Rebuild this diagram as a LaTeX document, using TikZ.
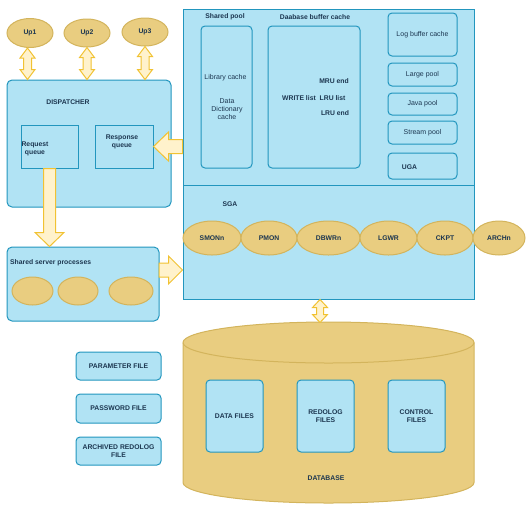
\documentclass[tikz,border=0pt]{standalone}
\usepackage{fontspec}
\setmainfont{Liberation Sans}
\usetikzlibrary{shapes.geometric,calc}
\definecolor{bfill}{HTML}{B1E3F4}
\definecolor{bline}{HTML}{2296BE}
\definecolor{efill}{HTML}{E9CD80}
\definecolor{eline}{HTML}{D3B45C}
\definecolor{afill}{HTML}{FFF2CC}
\definecolor{aline}{HTML}{F1C232}
\definecolor{txt}{HTML}{1C3650}
% vertical double block arrow: top, bottom, head half, shaft half, head length
\newcommand\dblarrowv[5]{%
 \draw[blk] (#1) -- ($(#1)+(#3,#5)$) -- ($(#1)+(#4,#5)$) -- ($(#2)+(#4,-#5)$) -- ($(#2)+(#3,-#5)$) -- (#2) -- ($(#2)+(-#3,-#5)$) -- ($(#2)+(-#4,-#5)$) -- ($(#1)+(-#4,#5)$) -- ($(#1)+(-#3,#5)$) -- cycle;}
\newcommand\arrowdown[5]{%
 \draw[blk] ($(#1)+(-#4,0)$) -- ($(#1)+(#4,0)$) -- ($(#2)+(#4,-#5)$) -- ($(#2)+(#3,-#5)$) -- (#2) -- ($(#2)+(-#3,-#5)$) -- ($(#2)+(-#4,-#5)$) -- cycle;}
\newcommand\arrowright[5]{%
 \draw[blk] ($(#1)+(0,-#4)$) -- ($(#2)+(-#5,-#4)$) -- ($(#2)+(-#5,-#3)$) -- (#2) -- ($(#2)+(-#5,#3)$) -- ($(#2)+(-#5,#4)$) -- ($(#1)+(0,#4)$) -- cycle;}
\newcommand\arrowleft[5]{%
 \draw[blk] ($(#1)+(0,-#4)$) -- ($(#2)+(#5,-#4)$) -- ($(#2)+(#5,-#3)$) -- (#2) -- ($(#2)+(#5,#3)$) -- ($(#2)+(#5,#4)$) -- ($(#1)+(0,#4)$) -- cycle;}
\begin{document}
\begin{tikzpicture}[x=1pt,y=-1pt,
 font=\fontsize{7}{8.2}\selectfont, text=txt,
 box/.style={draw=bline,fill=bfill,line width=1pt,rounded corners=4pt,inner sep=0pt},
 proc/.style={ellipse,draw=eline,fill=efill,line width=1pt,inner sep=0pt,font=\fontsize{6.8}{8}\selectfont\bfseries},
 lbl/.style={inner sep=0pt,align=center,font=\fontsize{6.8}{8}\selectfont\bfseries},
 reg/.style={inner sep=0pt,align=center},
 blk/.style={draw=aline,fill=afill,line width=1pt,line join=miter}]
\useasboundingbox (0,0) rectangle (529,520);

% ---------- users
\node[proc,minimum width=46pt,minimum height=29pt] (up1) at (30,33) {Up1};
\node[proc,minimum width=46pt,minimum height=28pt] (up2) at (87,33) {Up2};
\node[proc,minimum width=46pt,minimum height=28pt] (up3) at (145,32) {Up3};

% ---------- dispatcher
\node[box,rounded corners=5pt,minimum width=164pt,minimum height=127pt] (disp) at (89,143.5) {};
\node[lbl] (displ) at (68,102) {DISPATCHER};
\node[box,rounded corners=0pt,minimum width=57pt,minimum height=43pt] (rq) at (49.5,146.5) {};
\node[lbl] (rqt) at (35,148.5) {Request\\queue};
\node[box,rounded corners=0pt,minimum width=58pt,minimum height=43pt] (resp) at (124,146.5) {};
\node[lbl] (respt) at (122,142) {Response\\queue};

\dblarrowv{$(up1.south)+(-2.5,0)$}{$(up1.south |- disp.north)+(-2.5,0)$}{7.5}{4}{10}
\dblarrowv{up2.south}{up2.south |- disp.north}{7.5}{4}{10}
\dblarrowv{up3.south}{up3.south |- disp.north}{7.5}{4}{10}

% ---------- shared server processes
\node[box,rounded corners=5pt,minimum width=152pt,minimum height=74pt] (ssp) at (83,284) {};
\node[lbl,anchor=west] (sspl) at (10,263) {Shared server processes};
\node[proc,minimum width=41pt,minimum height=28pt] (s1) at (32.5,291) {};
\node[proc,minimum width=40pt,minimum height=28pt] (s2) at (78,291) {};
\node[proc,minimum width=44pt,minimum height=28pt] (s3) at (131,291) {};

\arrowdown{rq.south}{rq.south |- ssp.north}{14.5}{6}{14}

% ---------- SGA
\node[draw=bline,fill=bfill,line width=1pt,inner sep=0pt,minimum width=291pt,minimum height=290pt] (sga) at (328.5,154) {};
\coordinate (divl) at (183,185);
\draw[bline,line width=1pt] (divl) -- (divl -| sga.east);

\node[lbl] (spl) at (225,17) {Shared pool};
\node[lbl] (dbcl) at (315,17) {Daabase buffer cache};
\node[box,minimum width=51pt,minimum height=142pt] (sp) at (226.5,97) {};
\node[reg] (lib) at (225.5,77.5) {Library cache};
\node[reg] (ddc) at (227,109) {Data\\Dictionary\\cache};
\node[box,minimum width=92pt,minimum height=142pt] (dbc) at (314,97) {};
\node[lbl] (mru) at (334,81) {MRU end};
\node[lbl,anchor=east] (wl) at (316,98) {WRITE list};
\node[lbl,anchor=west] (lrul) at (319.5,98) {LRU list};
\node[lbl] (lrue) at (335,113) {LRU end};

\node[box,minimum width=69pt,minimum height=43pt] (lbc) at (422.5,34.5) {};
\node[reg] (lbct) at (422.5,35) {Log buffer cache};
\node[box,minimum width=69pt,minimum height=23pt] (lp) at (422.5,74.5) {};
\node[reg] (lpt) at (422.5,74.5) {Large pool};
\node[box,minimum width=69pt,minimum height=22pt] (jp) at (422.5,104) {};
\node[reg] (jpt) at (422.5,104) {Java pool};
\node[box,minimum width=69pt,minimum height=23pt] (stp) at (422.5,132.5) {};
\node[reg] (stpt) at (422.5,132.5) {Stream pool};
\node[box,minimum width=69pt,minimum height=26pt] (uga) at (422.5,166) {};
\node[lbl] (ugat) at (409.5,167) {UGA};

\node[lbl] (sgal) at (230,204) {SGA};
\node[proc,minimum width=58pt,minimum height=34pt] (smon) at (212,238) {SMONn};
\node[proc,minimum width=56pt,minimum height=34pt] (pmon) at (269,238) {PMON};
\node[proc,minimum width=63pt,minimum height=34pt] (dbwr) at (328.5,238) {DBWRn};
\node[proc,minimum width=57pt,minimum height=34pt] (lgwr) at (388.5,238) {LGWR};
\node[proc,minimum width=56pt,minimum height=34pt] (ckpt) at (445,238) {CKPT};
\node[proc,minimum width=52pt,minimum height=34pt] (arch) at (499,238) {ARCHn};

\arrowleft{sga.west |- resp.east}{resp.east}{14.5}{7}{15}
\coordinate (ra) at (159,270);
\arrowright{ra}{ra -| sga.west}{14}{7}{14}

% ---------- database cylinder
\filldraw[fill=efill,draw=eline,line width=1pt] (183,342.5) -- (183,482.5)
  arc[start angle=180,end angle=360,x radius=145.5pt,y radius=20.5pt] -- (474,342.5)
  arc[start angle=0,end angle=180,x radius=145.5pt,y radius=20.5pt] -- cycle;
\draw[eline,line width=1pt] (183,342.5) arc[start angle=180,end angle=360,x radius=145.5pt,y radius=20.5pt];
\coordinate (dbt) at (320,322.5);
\dblarrowv{dbt |- sga.south}{dbt}{7.5}{3.5}{8}

\node[box,minimum width=57pt,minimum height=72pt] (df) at (234.5,416) {};
\node[lbl] (dft) at (234.5,416) {DATA FILES};
\node[box,minimum width=57pt,minimum height=72pt] (rf) at (325.5,416) {};
\node[lbl] (rft) at (325.5,416) {REDOLOG\\FILES};
\node[box,minimum width=57pt,minimum height=72pt] (cf) at (416.5,416) {};
\node[lbl] (cft) at (416.5,416) {CONTROL\\FILES};
\node[lbl] (dbl) at (326,478) {DATABASE};

% ---------- files
\node[box,minimum width=85pt,minimum height=28pt] (pf) at (118.5,366) {};
\node[lbl] (pft) at (118.5,366) {PARAMETER FILE};
\node[box,minimum width=85pt,minimum height=29pt] (pwf) at (118.5,408.5) {};
\node[lbl] (pwft) at (118.5,408.5) {PASSWORD FILE};
\node[box,minimum width=85pt,minimum height=28pt] (arf) at (118.5,451) {};
\node[lbl] (arft) at (118.5,451) {ARCHIVED REDOLOG\\FILE};
\end{tikzpicture}
\end{document}
